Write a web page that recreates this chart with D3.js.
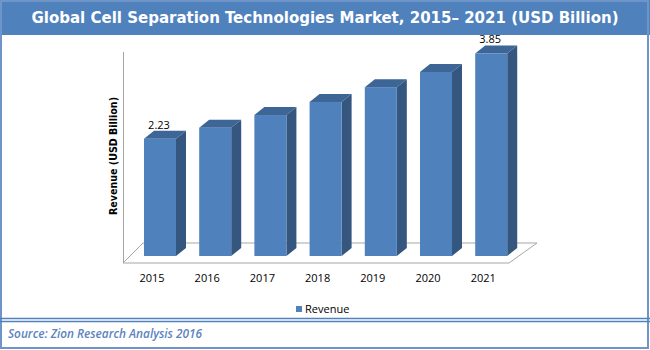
<!DOCTYPE html>
<html>
<head>
<meta charset="utf-8">
<script src="https://cdn.jsdelivr.net/npm/d3@7"></script>
<style>
  body { margin: 0; background: #fff; }
  svg { display: block; }
</style>
</head>
<body>
<svg id="chart" width="650" height="350"></svg>
<script>
// data
let years = ["2015", "2016", "2017", "2018", "2019", "2020", "2021"];
let revenue = [2.23, 2.44, 2.68, 2.93, 3.21, 3.50, 3.85];
let labelled = ["2015", "2021"];   // only first and last bar carry a value label
let titleText = "Global Cell Separation Technologies Market, 2015\u2013 2021 (USD Billion)";
let yTitle = "Revenue (USD Billion)";
let seriesName = "Revenue";
let sourceText = "Source: Zion Research Analysis 2016";

let svg = d3.select("#chart");
let blue = "#4f81bd";

// frame + title bar
svg.append("rect").attr("x", 0).attr("y", 0).attr("width", 650).attr("height", 35).attr("fill", blue);
svg.append("rect").attr("x", 1).attr("y", 1).attr("width", 647).attr("height", 347)
   .attr("fill", "none").attr("stroke", "#6f95c8").attr("stroke-width", 2);
svg.append("text")
   .attr("x", 325).attr("y", 23)
   .attr("text-anchor", "middle")
   .attr("fill", "#fff")
   .attr("font-family", "'DejaVu Sans Condensed', 'DejaVu Sans', sans-serif")
   .attr("font-weight", "bold")
   .attr("font-size", 15)
   .attr("textLength", 587).attr("lengthAdjust", "spacingAndGlyphs")
   .text(titleText);

// footer double rule + source
svg.append("line").attr("x1", 0).attr("x2", 650).attr("y1", 318.5).attr("y2", 318.5)
   .attr("stroke", blue).attr("stroke-width", 1.5);
svg.append("line").attr("x1", 0).attr("x2", 650).attr("y1", 321.5).attr("y2", 321.5)
   .attr("stroke", blue).attr("stroke-width", 1.5);
svg.append("text")
   .attr("x", 8).attr("y", 338)
   .attr("fill", "#5b83c0")
   .attr("font-family", "'Open Sans', sans-serif")
   .attr("font-style", "italic").attr("font-weight", 600)
   .attr("font-size", 12.5)
   .attr("textLength", 194).attr("lengthAdjust", "spacingAndGlyphs")
   .text(sourceText);

// scales
let xScale = d3.scaleBand()
    .domain(years)
    .range([120.8, 530.4])
    .paddingInner(0.42)
    .paddingOuter(0.42);
let yScale = d3.scaleLinear()
    .domain([0, 4])
    .range([256, 45.6]);

let dx = 10, dy = -8;  // bar depth offset

// floor + left wall edge
let grey = "#a6a6a6";
svg.append("path")
   .attr("d", "M123,263 L143,243 L537,243 L509,263 Z")
   .attr("fill", "none").attr("stroke", grey).attr("stroke-width", 1);
svg.append("line").attr("x1", 123.5).attr("x2", 123.5).attr("y1", 52).attr("y2", 263)
   .attr("stroke", grey).attr("stroke-width", 1);

// bars
let bars = svg.append("g").selectAll("g")
    .data(years.map((y, i) => ({year: y, value: revenue[i]})))
    .enter().append("g");

bars.append("path")   // side
    .attr("fill", "#34567f")
    .attr("d", d => {
        let x1 = xScale(d.year) + xScale.bandwidth(), y0 = yScale(0), y1 = yScale(d.value);
        return `M${x1},${y1} L${x1 + dx},${y1 + dy} L${x1 + dx},${y0 + dy} L${x1},${y0} Z`;
    });
bars.append("path")   // top
    .attr("fill", "#3d6596")
    .attr("d", d => {
        let x0 = xScale(d.year), x1 = x0 + xScale.bandwidth(), y1 = yScale(d.value);
        return `M${x0},${y1} L${x0 + dx},${y1 + dy} L${x1 + dx},${y1 + dy} L${x1},${y1} Z`;
    });
bars.append("rect")   // front
    .attr("fill", blue)
    .attr("x", d => xScale(d.year))
    .attr("y", d => yScale(d.value))
    .attr("width", xScale.bandwidth())
    .attr("height", d => yScale(0) - yScale(d.value));

bars.filter(d => labelled.includes(d.year))
    .append("text")
    .attr("x", d => xScale(d.year) + xScale.bandwidth() / 2 - 1)
    .attr("y", d => yScale(d.value) + dy - 2)
    .attr("text-anchor", "middle")
    .attr("font-family", "'Open Sans', sans-serif")
    .attr("font-size", 11)
    .attr("fill", "#000")
    .text(d => d.value.toFixed(2));

// x axis labels
let xAxis = d3.axisBottom(xScale).tickSize(0).tickPadding(0);
let gx = svg.append("g")
    .attr("transform", "translate(-8, 274)")
    .call(xAxis);
gx.select(".domain").remove();
gx.selectAll("text")
    .attr("font-family", "'Open Sans', sans-serif")
    .attr("font-size", 11)
    .attr("fill", "#000");

// y title
svg.append("text")
   .attr("transform", "translate(117, 156) rotate(-90)")
   .attr("text-anchor", "middle")
   .attr("font-family", "'DejaVu Sans Condensed', 'DejaVu Sans', sans-serif")
   .attr("font-weight", "bold")
   .attr("font-size", 11)
   .attr("textLength", 118).attr("lengthAdjust", "spacingAndGlyphs")
   .text(yTitle);

// legend
let legend = svg.append("g").attr("transform", "translate(296, 306)");
legend.append("rect").attr("width", 6).attr("height", 6).attr("fill", blue);
legend.append("text")
   .attr("x", 9).attr("y", 7)
   .attr("font-family", "'Open Sans', sans-serif")
   .attr("font-size", 11)
   .attr("fill", "#000")
   .text(seriesName);
</script>
</body>
</html>
